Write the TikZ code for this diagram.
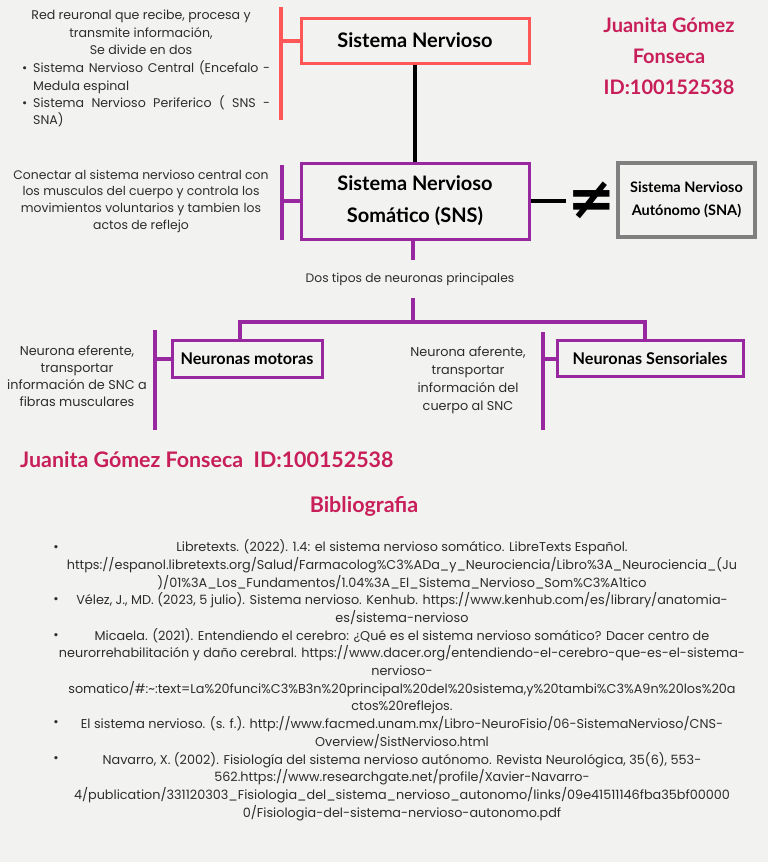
\documentclass[tikz,border=0pt]{standalone}
\usepackage{fontspec}
\setmainfont{Poppins}
\newfontfamily\latof{Lato}
\newfontfamily\symfont{DejaVu Sans}
\definecolor{bg}{RGB}{242,242,240}
\definecolor{redc}{RGB}{255,87,87}
\definecolor{purp}{RGB}{152,40,160}
\definecolor{grayc}{RGB}{128,128,128}
\definecolor{namec}{RGB}{200,30,90}
\definecolor{txt}{RGB}{45,45,45}
\begin{document}
\begin{tikzpicture}[x=1pt,y=-1pt,
  bx/.style={draw, line width=3pt, inner sep=0pt, align=center, text=black},
  titlef/.style={font=\latof\bfseries\fontsize{20}{32}\selectfont},
  subf/.style={font=\latof\bfseries\fontsize{16.2}{18}\selectfont},
  bodyf/.style={font=\fontsize{12.6}{17.3}\selectfont, inner sep=0pt, align=center, text=txt},
  namef/.style={font=\latof\bfseries\fontsize{20}{31}\selectfont, text=namec, inner sep=0pt, align=center},
  bibf/.style={font=\fontsize{12.8}{17.7}\selectfont, inner sep=0pt, align=center, text=txt},
  redline/.style={draw=redc, line width=4pt},
  purline/.style={draw=purp, line width=4pt},
  blkline/.style={draw=black, line width=4.5pt}]
\fill[bg] (0,0) rectangle (768,862);
\useasboundingbox (0,0) rectangle (768,862);

% boxes
\node[bx, draw=redc, titlef, minimum width=228pt, minimum height=45pt] (sn) at (415,40.5) {Sistema Nervioso};
\node[bx, draw=purp, titlef, minimum width=228pt, minimum height=76pt] (sns) at (415,201) {Sistema Nervioso\\Somático (SNS)};
\node[bx, draw=grayc, line width=3.5pt, font=\latof\bfseries\fontsize{14.5}{23}\selectfont, minimum width=137pt, minimum height=74pt] (sna) at (686.5,200) {Sistema Nervioso\\Autónomo (SNA)};
\node[bx, draw=purp, subf, minimum width=150pt, minimum height=37pt] (mot) at (247,358.5) {Neuronas motoras};
\node[bx, draw=purp, subf, minimum width=186pt, minimum height=36pt] (sen) at (650,358.5) {Neuronas Sensoriales};

% red bracket
\coordinate (rtop) at (281,7);
\coordinate (rbot) at (281,120);
\draw[redline] (rtop) -- (rbot);
\draw[redline] (sn.west -| rtop) -- (sn.west);

% black link
\draw[blkline] (sn.south) -- (sns.north);

% purple bracket SNS
\coordinate (ptop) at (282,165);
\coordinate (pbot) at (282,240);
\draw[purline] (ptop) -- (pbot);
\draw[purline] (sns.west -| ptop) -- (sns.west);

% not equal
\coordinate (neqend) at (566,201);
\draw[draw=black, line width=3.5pt] (sns.east |- neqend) -- (neqend);
\node[inner sep=0pt, font=\symfont\bfseries\fontsize{58}{58}\selectfont] (neq) at (592,200) {≠};

% tree below SNS
\coordinate (stub) at (413,260);
\draw[purline] (sns.south -| stub) -- (stub);
\node[bodyf, font=\fontsize{12.3}{15}\selectfont, anchor=base] (dos) at (410,282) {Dos tipos de neuronas principales};
\coordinate (hubtop) at (413,298);
\coordinate (hub) at (413,322);
\coordinate (mleft) at (240,322);
\coordinate (sright) at (645,322);
\draw[purline] (hubtop) -- (hub);
\draw[purline, line join=miter] (mot.north -| mleft) -- (mleft) -- (sright) -- (sen.north -| sright);

% neuron brackets
\coordinate (mbtop) at (155,330);
\coordinate (mbbot) at (155,430);
\draw[purline] (mbtop) -- (mbbot);
\draw[purline] (mot.west -| mbtop) -- (mot.west);
\coordinate (sbtop) at (543,332);
\coordinate (sbbot) at (543,430);
\draw[purline] (sbtop) -- (sbbot);
\draw[purline] (sen.west -| sbtop) -- (sen.west);

% texts
\node[bodyf, anchor=north] (d1) at (141,10) {Red reuronal que recibe, procesa y\\transmite información,\\Se divide en dos};
\node[bodyf, anchor=north west, align=left] (d2) at (22,61) {%
\makebox[11pt][l]{•}\makebox[237pt][s]{Sistema Nervioso Central (Encefalo -}\\
\hspace*{11pt}Medula espinal\\
\makebox[11pt][l]{•}\makebox[237pt][s]{Sistema Nervioso Periferico ( SNS -}\\
\hspace*{11pt}SNA)};
\node[bodyf, font=\fontsize{12.4}{16.8}\selectfont, anchor=north] (c1) at (141,169.5) {Conectar al sistema nervioso central con\\los musculos del cuerpo y controla los\\movimientos voluntarios y tambien los\\actos de reflejo};
\node[bodyf, font=\fontsize{12.8}{16.7}\selectfont, anchor=north] (ef) at (77,346) {Neurona eferente,\\transportar\\información de SNC a\\fibras musculares};
\node[bodyf, font=\fontsize{12.8}{18}\selectfont, anchor=north] (af) at (468,347) {Neurona aferente,\\transportar\\información del\\cuerpo al SNC};

% names
\node[namef, anchor=north] (nm1) at (669,17) {Juanita Gómez\\Fonseca\\ID:100152538};
\node[namef, font=\latof\bfseries\fontsize{21.4}{24}\selectfont, anchor=west] (nm2) at (20,460) {Juanita Gómez Fonseca\ \ ID:100152538};
\node[namef, font=\latof\bfseries\fontsize{21.5}{24}\selectfont] (bib) at (364,506) {Bibliografia};

% bibliography
\node[bibf, anchor=north] (refs) at (402,539.5) {%
Libretexts. (2022). 1.4: el sistema nervioso somático. LibreTexts Español.\\
https://espanol.libretexts.org/Salud/Farmacolog\%C3\%ADa\_y\_Neurociencia/Libro\%3A\_Neurociencia\_(Ju\\
)/01\%3A\_Los\_Fundamentos/1.04\%3A\_El\_Sistema\_Nervioso\_Som\%C3\%A1tico\\
Vélez, J., MD. (2023, 5 julio). Sistema nervioso. Kenhub. https://www.kenhub.com/es/library/anatomia-\\
es/sistema-nervioso\\
Micaela. (2021). Entendiendo el cerebro: ¿Qué es el sistema nervioso somático? Dacer centro de\\
neurorrehabilitación y daño cerebral. https://www.dacer.org/entendiendo-el-cerebro-que-es-el-sistema-\\
nervioso-\\
somatico/\#:\textasciitilde:text=La\%20funci\%C3\%B3n\%20principal\%20del\%20sistema,y\%20tambi\%C3\%A9n\%20los\%20a\\
ctos\%20reflejos.\\
El sistema nervioso. (s. f.). http://www.facmed.unam.mx/Libro-NeuroFisio/06-SistemaNervioso/CNS-\\
Overview/SistNervioso.html\\
Navarro, X. (2002). Fisiología del sistema nervioso autónomo. Revista Neurológica, 35(6), 553-\\
562.https://www.researchgate.net/profile/Xavier-Navarro-\\
4/publication/331120303\_Fisiologia\_del\_sistema\_nervioso\_autonomo/links/09e41511146fba35bf00000\\
0/Fisiologia-del-sistema-nervioso-autonomo.pdf};
\foreach \yy/\nm in {549/b1,601/b2,637/b3,724/b4,760/b5}
  \node[bibf, font=\fontsize{13}{14}\selectfont] (\nm) at (56,\yy) {•};
\end{tikzpicture}
\end{document}
